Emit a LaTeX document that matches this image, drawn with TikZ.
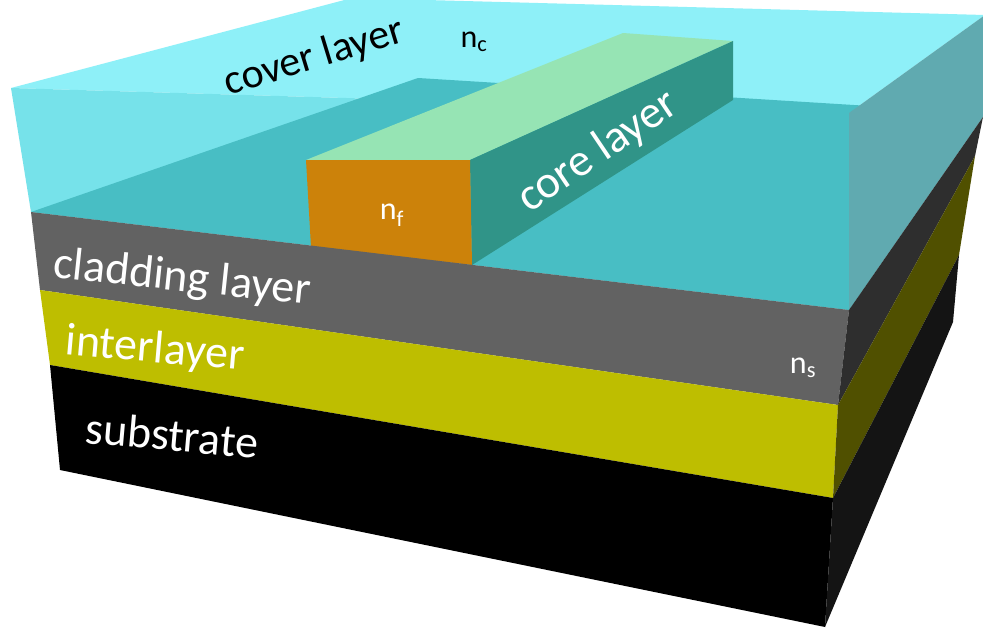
\documentclass[tikz,border=0pt]{standalone}
\usepackage{fontspec}
\setmainfont{Carlito}
\begin{document}
\begin{tikzpicture}[x=1pt,y=-1pt,
 lbl/.style={font=\fontsize{46}{52}\selectfont, inner sep=0pt},
 sub/.style={font=\fontsize{32}{36}\selectfont, inner sep=0pt}]
\definecolor{topc}{RGB}{142,240,248}
\definecolor{frontc}{RGB}{118,226,234}
\definecolor{cladtop}{RGB}{72,190,196}
\definecolor{rightc}{RGB}{96,170,176}
\definecolor{orangec}{RGB}{204,130,10}
\definecolor{ridgetop}{RGB}{150,228,180}
\definecolor{ridgeside}{RGB}{48,148,136}
\definecolor{greyc}{RGB}{98,98,98}
\definecolor{yelc}{RGB}{190,190,0}
\definecolor{yeldark}{RGB}{80,80,0}
\useasboundingbox (0,0) rectangle (983,629);
\fill[white] (0,0) rectangle (983,629);
\begin{scope}
\clip (0,0) rectangle (983,629);
% top face of cover
\fill[topc] (11,88) -- (352,-2) -- (985,15) -- (849,113) -- cycle;
% front face of cover (upper, lighter)
\fill[frontc] (11,88) -- (849,113) -- (849,310) -- (31,212) -- cycle;
% cladding top seen through cover
\fill[cladtop] (31,212) -- (418,78) -- (983,113) -- (849,310) -- cycle;
% right face of cover
\fill[rightc] (849,113) -- (985,15) -- (983,117) -- (849,310) -- cycle;
% ridge
\fill[ridgetop] (306,160) -- (623,33) -- (733,41) -- (470,160) -- cycle;
\fill[ridgeside] (470,160) -- (733,41) -- (733,100) -- (472,265) -- cycle;
\fill[orangec] (306,160) -- (470,160) -- (472,265) -- (311,247) -- cycle;
% cladding
\fill[greyc] (31,212) -- (849,310) -- (838,405) -- (40,290) -- cycle;
\fill[black!82] (849,310) -- (983,117) -- (975,156) -- (838,405) -- cycle;
% interlayer
\fill[yelc] (40,290) -- (838,405) -- (833,498) -- (50,365) -- cycle;
\fill[yeldark] (838,405) -- (975,156) -- (959,255) -- (833,498) -- cycle;
% substrate
\fill[black] (50,365) -- (833,498) -- (825,627) -- (60,470) -- cycle;
\fill[black!92] (833,498) -- (959,255) -- (953,322) -- (825,627) -- cycle;
\end{scope}
\node[lbl,rotate=17,font=\fontsize{42}{48}\selectfont] (cov) at (314,58) {cover layer};
\node[sub] (nc) at (474,42) {n\textsubscript{c}};
\node[lbl,rotate=34,white] (core) at (598,152) {core layer};
\node[sub,white] (nf) at (392,215) {n\textsubscript{f}};
\node[lbl,rotate=-6,white] (clad) at (182,279) {cladding layer};
\node[lbl,rotate=-5,white] (inter) at (155,350) {interlayer};
\node[lbl,rotate=-5,white] (subs) at (172,435) {substrate};
\node[sub,white] (ns) at (803,368) {n\textsubscript{s}};
\end{tikzpicture}
\end{document}
